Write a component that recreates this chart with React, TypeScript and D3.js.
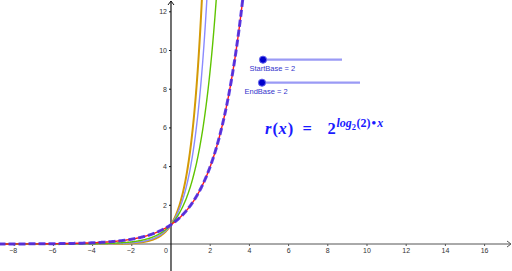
import React from "react";
import * as d3 from "d3";

const W = 512;
const H = 271;

// curve bases (function graphs b^x)
const bases = [5, 4, 3];
const baseColors = ["#d49a06", "#8a8aff", "#5fc400"];
const baseWidths = [2, 1.4, 1.4];
const mainBase = 2;

const xTicks = [-8, -6, -4, -2, 0, 2, 4, 6, 8, 10, 12, 14, 16];
const yTicks = [2, 4, 6, 8, 10, 12];

const sliderLabels = ["StartBase = 2", "EndBase = 2"];

const x = d3.scaleLinear().domain([-8.724, 17.398]).range([0, W]);
const y = d3.scaleLinear().domain([0, 12.61]).range([244, 0]);

function curve(b: number): string {
  const xs = d3.range(-8.8, 17.5, 0.02);
  const line = d3
    .line<number>()
    .x((v) => x(v))
    .y((v) => y(Math.pow(b, v)))
    .defined((v) => Math.pow(b, v) < 20);
  return line(xs) || "";
}

export default function App() {
  const x0 = x(0);
  const y0 = y(0);
  return (
    <svg
      width={W}
      height={H}
      style={{ position: "absolute", left: 0, top: 0, background: "#fff" }}
      fontFamily="Liberation Sans, Arial, sans-serif"
    >
      <defs>
        <clipPath id="plot">
          <rect x={0} y={0} width={W} height={H} />
        </clipPath>
      </defs>
      {/* axes */}
      <line x1={0} x2={W - 2} y1={y0} y2={y0} stroke="#555" strokeWidth={1} />
      <path d={`M${W - 5},${y0 - 3} L${W - 1},${y0} L${W - 5},${y0 + 3}`} fill="none" stroke="#555" strokeWidth={1} />
      <line x1={x0} x2={x0} y1={1} y2={H} stroke="#111" strokeWidth={1.2} />
      <path d={`M${x0 - 3},${5} L${x0},${1} L${x0 + 3},${5}`} fill="none" stroke="#111" strokeWidth={1} />
      {xTicks.map((t) => (
        <g key={"x" + t}>
          {t !== 0 && <line x1={x(t)} x2={x(t)} y1={y0} y2={y0 + 2} stroke="#555" />}
          <text
            x={t === 0 ? x0 - 5 : x(t) + (t < 0 ? -1 : 0)}
            y={y0 + 9}
            fontSize={7}
            fill="#333"
            textAnchor="middle"
          >
            {t < 0 ? "\u2212" + Math.abs(t) : t}
          </text>
        </g>
      ))}
      {yTicks.map((t) => (
        <g key={"y" + t}>
          <line x1={x0 - 2} x2={x0} y1={y(t)} y2={y(t)} stroke="#111" />
          <text x={x0 - 4} y={y(t) + 2.5} fontSize={7} fill="#333" textAnchor="end">
            {t}
          </text>
        </g>
      ))}
      {/* curves */}
      <g clipPath="url(#plot)" fill="none">
        {bases.map((b, i) => (
          <path key={b} d={curve(b)} stroke={baseColors[i]} strokeWidth={baseWidths[i]} />
        ))}
        <path d={curve(mainBase)} stroke="#ff1a1a" strokeWidth={1.4} />
        <path
          d={curve(mainBase)}
          stroke="#4a2ee6"
          strokeOpacity={0.9}
          strokeWidth={3}
          strokeDasharray="7,3"
        />
      </g>
      {/* sliders */}
      <g>
        <line x1={263} x2={342} y1={59.7} y2={59.7} stroke="#9a9af5" strokeWidth={2.2} />
        <circle cx={263} cy={59.7} r={3.6} fill="#0000cc" stroke="#6666ee" strokeWidth={1} />
        <text x={249.5} y={70.5} fontSize={7.5} fill="#3333cc">
          {sliderLabels[0]}
        </text>
        <line x1={262} x2={360} y1={82.7} y2={82.7} stroke="#9a9af5" strokeWidth={2.2} />
        <circle cx={262} cy={82.7} r={3.6} fill="#0000cc" stroke="#6666ee" strokeWidth={1} />
        <text x={244.5} y={94} fontSize={7.5} fill="#3333cc">
          {sliderLabels[1]}
        </text>
      </g>
      {/* formula */}
      <g fill="#1a1aff" fontFamily="Liberation Serif, Times New Roman, serif" fontWeight="bold">
        <text x={265} y={134} fontSize={16.5}>
          <tspan fontStyle="italic">r</tspan>
          <tspan dx={1}>(</tspan>
          <tspan dx={0.5} fontStyle="italic">x</tspan>
          <tspan dx={1}>)</tspan>
        </text>
        <text x={302.5} y={134} fontSize={16.5}>
          =
        </text>
        <text x={327.5} y={134} fontSize={16.5}>
          2
        </text>
        <text x={336.5} y={127} fontSize={12}>
          <tspan fontStyle="italic">log</tspan>
          <tspan fontSize={8.5} dy={2.5}>2</tspan>
          <tspan dy={-2.5} dx={0.5}>(2)</tspan>
          <tspan dx={1} fontSize={13}>•</tspan>
          <tspan dx={1} fontStyle="italic">x</tspan>
        </text>
      </g>
    </svg>
  );
}
